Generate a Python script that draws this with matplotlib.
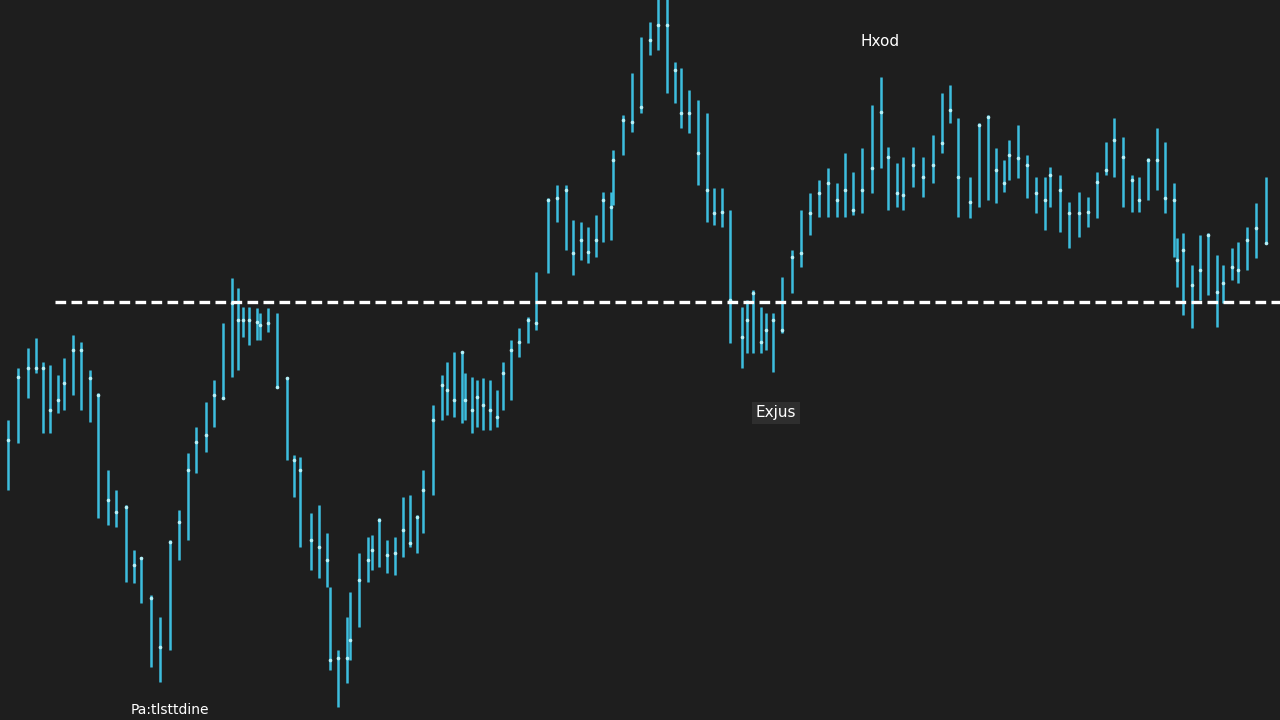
import numpy as np
import matplotlib
matplotlib.use("Agg")
import matplotlib.pyplot as plt

# trading day position of every bar
days = [8, 18, 28, 36, 43, 50, 58, 64, 73, 81, 90, 98, 108, 116, 126, 134, 141, 151, 160, 170,
        179, 188, 196, 206, 214, 223, 232, 238, 243, 249, 257, 260, 268, 277, 287, 294, 300, 311, 319, 327,
        330, 338, 347, 350, 359, 368, 372, 379, 387, 395, 403, 410, 417, 423, 433, 442, 447, 454, 462, 465,
        472, 477, 483, 490, 497, 503, 511, 519, 528, 536, 548, 557, 566, 573, 581, 588, 596, 603, 611, 613,
        623, 632, 641, 650, 658, 667, 675, 681, 689, 698, 707, 714, 722, 730, 742, 747, 753, 761, 766, 773,
        782, 792, 801, 810, 819, 828, 837, 845, 853, 862, 872, 881, 888, 897, 903, 913, 923, 933, 942, 950,
        958, 970, 979, 988, 996, 1004, 1009, 1018, 1027, 1036, 1045, 1050, 1060, 1069, 1079, 1088, 1097, 1106, 1114, 1123,
        1132, 1139, 1148, 1157, 1165, 1174, 1177, 1183, 1192, 1200, 1208, 1217, 1223, 1232, 1238, 1247, 1256, 1266]

high = [300, 352, 372, 382, 358, 355, 345, 362, 385, 378, 350, 327, 250, 230, 215, 170, 163, 125, 103, 180,
        210, 267, 293, 318, 340, 397, 442, 432, 413, 413, 412, 407, 412, 407, 343, 265, 263, 207, 215, 187,
        133, 70, 103, 128, 167, 183, 185, 202, 180, 183, 223, 225, 205, 250, 315, 345, 358, 368, 368, 347,
        343, 340, 342, 340, 330, 358, 380, 392, 403, 448, 522, 535, 535, 500, 498, 493, 505, 528, 528, 570,
        605, 647, 683, 698, 725, 725, 658, 652, 630, 620, 607, 532, 532, 510, 413, 420, 430, 413, 407, 407,
        443, 470, 510, 527, 540, 552, 537, 567, 548, 572, 615, 643, 573, 557, 563, 573, 563, 585, 627, 635,
        602, 543, 597, 605, 572, 560, 580, 595, 565, 543, 543, 553, 545, 518, 528, 523, 548, 578, 602, 583,
        545, 543, 562, 592, 578, 537, 482, 487, 455, 485, 487, 465, 455, 472, 478, 493, 517, 543]

low = [230, 277, 322, 347, 287, 287, 307, 310, 325, 310, 298, 202, 195, 193, 138, 137, 117, 53, 38, 70,
       160, 180, 247, 268, 293, 322, 343, 350, 383, 375, 380, 380, 388, 332, 260, 223, 173, 150, 142, 133,
       50, 13, 37, 60, 93, 138, 150, 153, 147, 145, 163, 173, 167, 187, 225, 300, 305, 303, 297, 300,
       287, 293, 290, 290, 293, 310, 320, 363, 377, 390, 447, 498, 470, 445, 460, 457, 463, 478, 480, 515,
       565, 588, 607, 665, 670, 627, 617, 592, 587, 535, 498, 495, 493, 377, 352, 367, 367, 367, 370, 348,
       387, 427, 453, 485, 503, 503, 503, 503, 505, 507, 527, 552, 510, 513, 510, 533, 523, 537, 567, 597,
       503, 502, 513, 520, 517, 528, 540, 542, 522, 507, 490, 513, 488, 472, 483, 493, 502, 545, 543, 513,
       508, 508, 520, 530, 507, 463, 433, 405, 392, 420, 425, 393, 417, 440, 437, 450, 462, 477]

close = [280, 343, 352, 352, 352, 310, 320, 337, 370, 370, 342, 325, 220, 208, 213, 155, 162, 122, 73, 178,
         198, 250, 278, 285, 325, 322, 417, 400, 400, 400, 398, 395, 397, 333, 342, 260, 250, 180, 173, 160,
         60, 62, 62, 80, 140, 160, 170, 200, 165, 167, 190, 177, 203, 230, 300, 335, 330, 320, 368, 320,
         310, 323, 315, 310, 303, 347, 370, 378, 400, 397, 520, 522, 530, 467, 480, 468, 480, 520, 513, 560,
         600, 598, 613, 680, 695, 695, 650, 607, 607, 567, 530, 507, 508, 420, 383, 400, 427, 378, 390, 400,
         390, 463, 467, 507, 527, 537, 520, 530, 510, 530, 552, 608, 563, 527, 525, 555, 543, 555, 577, 610,
         543, 518, 595, 603, 550, 537, 565, 562, 555, 527, 520, 545, 530, 507, 507, 508, 538, 550, 580, 563,
         540, 520, 560, 560, 522, 520, 460, 470, 435, 450, 485, 428, 437, 453, 450, 480, 492, 477]

ref_level = 418
labels = ["Hxod", "Exjus", "Pa:tlsttdine"]

bg = "#1e1e1e"
fig = plt.figure(figsize=(12.8, 7.2), dpi=100, facecolor=bg)
ax = fig.add_axes([0, 0, 1, 1])
ax.set_facecolor(bg)

# high-low bars with close dots
ax.vlines(days, low, high, color="#3fc8ea", lw=1.8, alpha=0.95)
ax.plot(days, close, "o", color="#b5f0f7", ms=2.6, mew=0)

# reference level
ax.hlines(ref_level, 55, 1280, colors="white", lw=2.4, linestyles=(0, (3.2, 1.6)))

ax.text(880, 678, labels[0], color="white", fontsize=11, ha="center", va="center")
ax.text(776, 307, labels[1], color="white", fontsize=11, ha="center", va="center",
        bbox=dict(boxstyle="square,pad=0.25", fc="#2e2e2e", ec="none"))
ax.text(170, 3, labels[2], color="white", fontsize=10, ha="center", va="bottom")

ax.set_xlim(0, 1280)
ax.set_ylim(0, 720)
ax.axis("off")

fig.savefig("out.png", dpi=100, facecolor=bg)
